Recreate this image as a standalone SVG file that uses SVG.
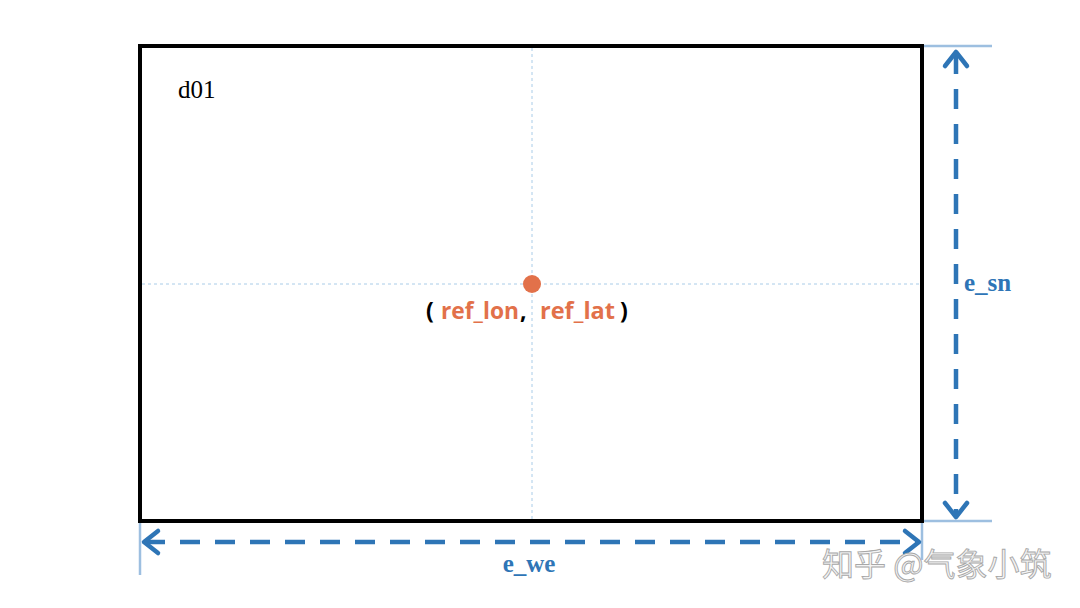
<svg xmlns="http://www.w3.org/2000/svg" width="1080" height="608" viewBox="0 0 1080 608">
<style>
.guide{stroke:#a9cce8;stroke-width:1;stroke-dasharray:3 3;fill:none}
.ext{stroke:#9dbfe0;stroke-width:2.5;fill:none}
.dim{stroke:#2e75b6;stroke-width:4.5;stroke-dasharray:20 15;fill:none}
.head{stroke:#2e75b6;stroke-width:4.5;fill:none;stroke-linecap:round;stroke-linejoin:round}
.dimlbl{font-family:"Liberation Serif",serif;font-weight:bold;font-size:25px;fill:#2e75b6}
.ref{font-family:"Open Sans","Liberation Sans",sans-serif;font-weight:bold;font-size:23px}
.or{fill:#e2714a}
</style>
<rect width="1080" height="608" fill="#fff"/>
<g id="domain">
<rect x="140" y="46" width="782" height="475" fill="none" stroke="#000" stroke-width="4"/>
<text x="178" y="98" font-family="Liberation Serif,serif" font-size="25" fill="#000">d01</text>
</g>
<g id="guides">
<line class="guide" x1="532" y1="48" x2="532" y2="519"/>
<line class="guide" x1="142" y1="284" x2="920" y2="284"/>
</g>
<g id="refpoint">
<circle cx="532" cy="284" r="9" fill="#e2714a"/>
<text class="ref" x="426" y="319">(</text>
<text class="ref or" x="441" y="319" textLength="78" lengthAdjust="spacingAndGlyphs">ref_lon</text>
<text class="ref" x="520" y="319">,</text>
<text class="ref or" x="540" y="319" textLength="75" lengthAdjust="spacingAndGlyphs">ref_lat</text>
<text class="ref" x="620" y="319">)</text>
</g>
<g id="connectors">
<line class="ext" x1="924" y1="46" x2="992" y2="46"/>
<line class="ext" x1="924" y1="521" x2="992" y2="521"/>
<line class="ext" x1="140" y1="523" x2="140" y2="575"/>
<line class="ext" x1="922" y1="523" x2="922" y2="560"/>
<line class="dim" x1="956" y1="54" x2="956" y2="516"/>
<polyline class="head" points="945,66 956,52 967,66"/>
<polyline class="head" points="945,503 956,517 967,503"/>
<line class="dim" x1="145" y1="542" x2="918" y2="542"/>
<polyline class="head" points="158,531 144,542 158,553"/>
<polyline class="head" points="905,531 919,542 905,553"/>
</g>
<g id="labels">
<text class="dimlbl" x="964" y="291">e_sn</text>
<text class="dimlbl" x="529" y="572" font-size="26" text-anchor="middle">e_we</text>
</g>
<g id="watermark">
<text x="822" y="576" font-family="Noto Sans CJK SC,sans-serif" font-size="32" fill="#f4f4f4" stroke="#a8a8a8" stroke-width="0.9">知乎 @气象小筑</text>
</g>
</svg>
